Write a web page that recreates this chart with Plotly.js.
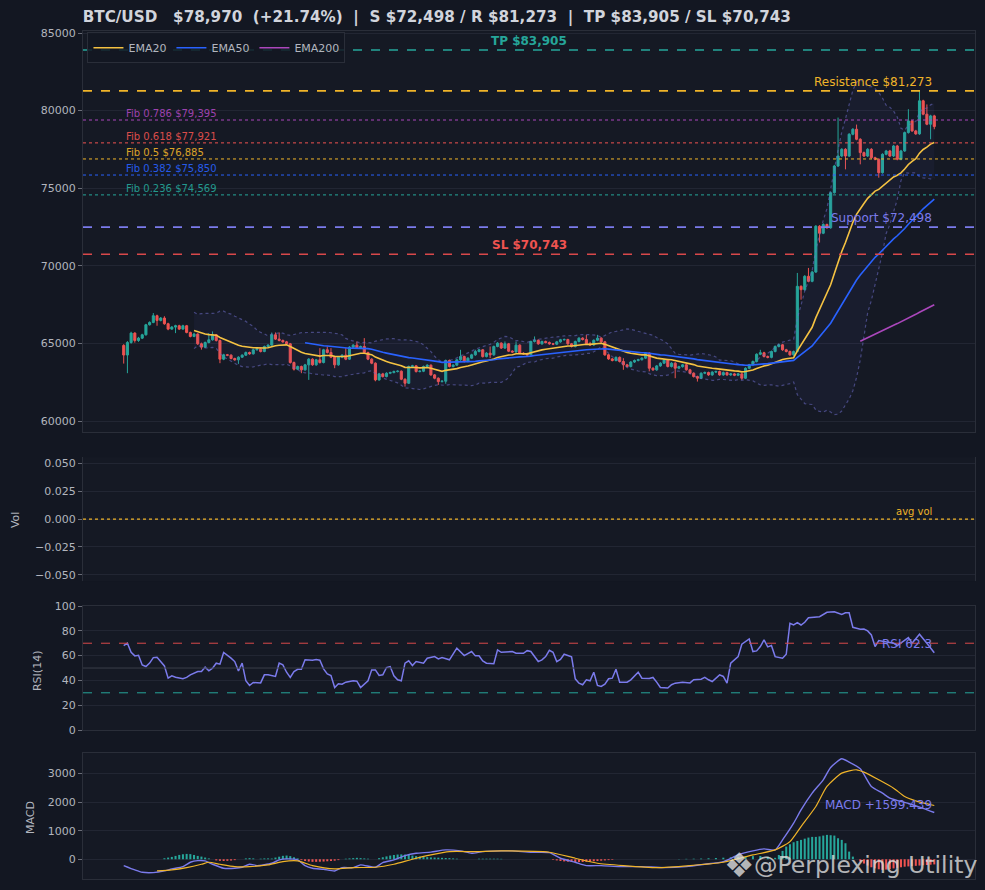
<!DOCTYPE html>
<html><head><meta charset="utf-8">
<script src="https://cdn.plot.ly/plotly-3.0.1.min.js"></script>
<style>html,body{margin:0;padding:0;background:#131722;}</style>
</head><body><div id="chart" style="width:985px;height:890px;"></div>
<script>
// ---------------- data ----------------
const closes = [64250,65060,65663,65189,65340,65555,66202,66352,66783,66481,
66632,66266,65922,66051,66137,65922,66137,65706,65448,65600,
64974,64759,65060,65233,65555,65189,63984,64264,64242,64027,
63941,64113,64242,64414,64328,64587,64630,64479,64802,64888,
65555,65276,65189,65100,64974,63768,63338,63510,63295,63618,
63984,63618,63941,63768,64587,64414,64113,63618,64113,64242,
63984,64759,64888,64716,64802,64414,63984,63725,62649,63036,
62864,63079,63122,63187,63209,62692,62433,63510,63553,63187,
63209,63510,63596,62972,62756,62541,62563,63900,63510,63600,
63941,64156,63833,64048,64264,64479,64587,64150,64371,64264,
64802,65017,64700,64974,64500,64450,64888,64371,64328,64264,
65125,65200,64974,65125,65060,64974,64950,65100,65233,65250,
64974,64800,65125,65340,65250,64974,64900,65200,65340,65100,
64264,64000,63900,64100,63833,63618,63510,63800,63900,63950,
64050,64371,63402,63295,63550,63725,63941,63510,63725,63402,
63500,63618,63300,63079,62864,62756,63079,63122,62972,63150,
63187,62972,63122,62972,63036,62950,63036,62756,63400,63618,
63833,64300,64400,64156,64100,64479,64802,64910,64587,64479,
64264,64479,68678,68463,69324,69000,69600,72553,72100,72660,
72450,74708,76430,77076,77507,77076,78476,78799,78153,77293,
77076,77507,76969,76861,76000,77184,77400,77076,77722,76861,
77400,78584,79337,78692,78500,80630,79768,79122,79660,78970];
const opens = [64868,64250,65060,65663,65189,65340,65555,66202,66352,66783,
66481,66632,66266,65922,66051,66137,65922,66137,65706,65448,
65600,64974,64759,65060,65233,65555,65189,63984,64264,64242,
64027,63941,64113,64242,64414,64328,64587,64630,64479,64802,
64888,65555,65276,65189,65100,64974,63768,63338,63510,63295,
63618,63984,63618,63941,63768,64587,64414,64113,63618,64113,
64242,63984,64759,64888,64716,64802,64414,63984,63725,62649,
63036,62864,63079,63122,63187,63209,62692,62433,63510,63553,
63187,63209,63510,63596,62972,62756,62541,62563,63900,63510,
63600,63941,64156,63833,64048,64264,64479,64587,64150,64371,
64264,64802,65017,64700,64974,64500,64450,64888,64371,64328,
64264,65125,65200,64974,65125,65060,64974,64950,65100,65233,
65250,64974,64800,65125,65340,65250,64974,64900,65200,65340,
65100,64264,64000,63900,64100,63833,63618,63510,63800,63900,
63950,64050,64371,63402,63295,63550,63725,63941,63510,63725,
63402,63500,63618,63300,63079,62864,62756,63079,63122,62972,
63150,63187,62972,63122,62972,63036,62950,63036,62756,63400,
63618,63833,64300,64400,64156,64100,64479,64802,64910,64587,
64479,64264,64479,68678,68463,69324,69000,69600,72553,72100,
72660,72450,74708,76430,77076,77507,77076,78476,78799,78153,
77293,77076,77507,76969,76861,76000,77184,77400,77076,77722,
76861,77400,78584,79337,78692,78500,80630,79768,79122,79660];
const highs = [64950,65150,65750,65720,65420,65620,66260,66420,66955,66850,
66700,66750,66330,66120,66200,66200,66200,66190,65760,65680,
65650,65050,65120,65663,65771,65600,65250,64330,64320,64300,
64080,64170,64300,64480,64470,64650,64700,64690,64860,64950,
65700,65706,65706,65250,65160,65030,63830,63570,63570,63680,
64050,64040,64000,64694,64650,64802,64694,64170,64170,64300,
64694,64820,64950,65125,64860,65340,64470,64040,63780,63100,
63100,63140,63180,63250,63270,63260,62750,63570,63620,63610,
63270,63570,63660,63650,63030,62810,62630,63960,63960,63660,
64000,64587,64210,64110,64330,64587,64650,64640,64440,64800,
64860,65080,65070,65125,65030,64560,65125,64940,64430,64390,
65180,65448,65260,65180,65180,65120,65030,65160,65290,65320,
65300,65030,65180,65400,65400,65550,65100,65260,65550,65400,
65160,64320,64060,64160,64160,64048,63680,63860,63960,64010,
64110,64430,64430,63460,63610,63790,64000,64000,63790,63790,
63560,63680,63680,63360,63140,62920,63140,63190,63180,63210,
63250,63250,63190,63180,63100,63100,63100,63100,63460,63680,
63900,64360,64587,64460,64220,64540,64870,64980,64970,64650,
64540,64540,69540,68740,69400,69862,69680,72620,72620,72740,
72720,74780,76500,79553,77580,77580,78550,78870,79100,78220,
77360,77580,77580,77030,76930,77250,77470,77470,77790,77790,
77470,78650,80091,79400,78760,81273,80700,80400,79730,79730];
const lows = [63700,63080,64980,65050,65100,65280,65500,66150,66300,66137,
66420,66200,65850,65870,65663,65860,65880,65650,65390,65400,
64900,64600,64700,65000,65180,65120,63725,63920,64180,63970,
63880,63680,64060,64190,64270,64280,64530,64420,64430,64750,
64840,65220,65130,65040,64910,63700,63250,63280,63080,63240,
62649,63560,63560,63700,63710,64350,64050,63402,63560,64050,
63920,63930,64700,64660,64650,64350,63920,63660,62560,62590,
62800,62810,63020,63070,63130,62630,62218,62380,63450,63120,
63130,63150,63450,62910,62690,62326,62480,62400,63450,63450,
63550,63880,63770,63780,63990,64200,64420,64090,64100,64050,
64200,64750,64640,64640,64440,64390,64390,64310,64270,64200,
64210,65060,64910,64910,65000,64910,64890,64890,65040,65180,
64910,64740,64740,65060,65190,64910,64840,64840,65140,65040,
64200,63940,63840,63840,63770,63300,63450,63450,63740,63840,
63890,63990,63200,63230,63240,63490,63670,63450,63450,62756,
63340,63440,63240,63010,62800,62541,62700,63020,62910,62910,
63090,62910,62910,62910,62910,62890,62890,62649,62700,63340,
63560,63770,64240,64090,64040,64040,64420,64740,64520,64420,
64200,64200,64420,67817,68400,68940,68940,69540,71500,72040,
72390,72390,74650,76370,77000,76215,77010,78410,78090,76538,
77010,77010,76900,76800,75677,75940,77120,77010,77010,76800,
76800,77340,78520,78630,78440,78440,79700,79060,78153,78799];

// RSI(14) (candle index, value)
const rsiIdx = [0,1,2,3,4,5,6,7,8,9,11,12,13,14,16,17,18,20,21,22,23,24,25,26,27,28,29,30,31,32,33,34,35,37,38,39,
41,42,43,44,45,46,47,48,49,51,52,53,54,55,56,57,58,59,60,62,63,64,66,67,68,69,70,71,72,73,74,75,76,77,78,79,
81,82,84,85,86,88,90,92,94,95,96,97,98,100,101,102,104,105,106,108,109,110,112,113,114,115,116,117,118,119,
121,122,123,124,125,126,127,128,129,130,131,132,133,134,136,137,139,140,142,143,144,145,147,148,149,151,153,154,
156,157,158,159,161,162,163,164,166,167,169,170,171,172,173,174,175,176,178,179,180,181,182,183,184,185,188,189,
190,192,194,195,196,197,199,200,201,202,203,204,206,208,209,212,213,215,217,218,219];
const rsiVal = [68,70,62.7,59.8,60.3,52.5,51.2,54,58.4,58.7,51.7,41.8,43.7,42.5,41.3,42.4,44.5,47.2,47.2,50.7,47.7,49.9,53.9,53.1,62.5,60.6,58,55.2,47.7,53.9,39.7,35.9,38.3,38,44.5,44.5,
43.2,53.9,52.5,46.6,42.4,47.2,49,49,56.6,56.3,56.8,56.3,49.3,45.3,44,34.3,37.3,37,38.6,39.7,39.4,34.3,39.7,48.5,48.5,44,44.5,50.4,51.2,43.7,40.5,39.7,53.9,55.8,52,55.2,
53.9,57.9,59.2,57.4,58.4,56.6,66,60,63.3,59.8,59.8,55.8,53.9,53.4,64.6,62.7,62.7,63.3,61.9,61.9,64,63.3,55.2,56.6,59.2,64.3,62.7,55.2,57,61.1,
59,41.3,37.8,36.5,40.5,39.7,46.6,35.9,35.1,37,41.3,41.8,49,38.6,38.6,40.5,46.6,41.8,41.5,42.4,38.6,34.3,33.8,36.5,37.8,38.6,38,40.5,
41,42.4,40.5,39.1,44.5,43.2,37.8,53.9,59.2,69.2,73.5,63.3,63.8,67.3,72.7,67,68.1,59.2,57.9,61.1,86.1,84.7,86.6,84.7,86.9,90.6,91.4,93.3,
94.9,95.4,93.3,94.6,94.6,82.8,81.2,81.5,79.9,76.7,67.3,72.1,71.3,70,68,74.5,70,77.2,70,66,62.3];

// MACD line, signal line and histogram
const macdIdx = [0,3,5,8,11,13,16,18,20,22,24,27,30,32,34,36,40,42,44,47,49,51,54,57,59,62,64,68,70,73,
76,79,83,87,91,94,97,102,105,110,115,118,122,125,129,134,140,146,152,157,162,166,170,173,176,178,181,183,186,189,
191,194,196,199,202,205,207,212,216,219];
const macdVal = [-222,-373,-455,-467,-408,-338,-257,-105,-47,-58,-175,-315,-315,-280,-175,-222,-140,-23,12,-23,
-222,-315,-350,-408,-292,-292,-198,-280,-117,-23,128,210,250,327,292,210,268,292,292,245,
233,35,-105,-222,-222,-257,-257,-292,-257,-175,-82,152,292,362,327,677,1260,1727,2311,2777,
3209,3513,3396,3163,2544,2311,2136,1950,1780,1634];
const signalIdx = [9,13,17,21,23,26,30,34,39,43,47,51,57,62,68,73,78,83,88,95,102,115,122,128,135,144,153,162,170,176,
180,183,187,190,194,198,200,204,208,211,214,219];
const signalVal = [-408,-373,-292,-175,-105,-175,-257,-257,-198,-82,-58,-222,-338,-292,-280,-175,0,152,268,268,
292,245,35,-140,-222,-292,-222,-105,152,327,618,1144,1844,2544,3011,3128,3046,2777,2486,2194,2042,1880];
const histIdx = [11,12,13,14,15,16,17,18,19,20,21,22,23,25,26,27,28,29,30,33,34,35,37,38,39,40,41,42,43,44,45,46,47,
48,49,50,51,52,53,54,55,56,57,58,60,61,62,63,64,65,66,69,70,71,72,73,74,75,76,77,78,79,80,81,82,
83,84,85,86,87,88,89,90,96,97,98,99,100,101,102,116,117,118,119,120,121,122,123,124,125,126,127,128,129,130,131,132,
150,152,154,156,158,160,162,164,166,168,170,172,174,176,177,178,179,180,181,182,183,184,185,186,187,188,189,190,191,192,
193,194,195,196,197,199,200,201,202,203,204,205,206,207,208,209,210,211,212,213,214,215,216,217,218,219];
const histVal = [35,58,82,117,152,175,187,180,150,117,93,60,30,-40,-55,-60,-55,-45,-30,30,40,30,20,30,30,25,60,90,120,130,110,70,30,
-30,-60,-80,-90,-90,-85,-80,-70,-60,-50,-30,20,30,40,50,40,30,20,40,70,100,130,150,165,170,165,150,130,110,95,85,75,
65,60,55,50,45,40,30,20,20,20,20,20,20,20,15,-20,-40,-60,-75,-85,-95,-100,-100,-95,-90,-80,-70,-60,-50,-40,-30,-20,
10,15,20,25,35,45,55,70,85,100,110,115,90,50,150,292,443,525,595,640,677,720,758,782,782,800,828,852,840,828,
735,677,560,268,93,-80,-150,-220,-280,-320,-350,-370,-360,-340,-320,-300,-280,-260,-250,-240,-230,-220,-210,-200,-190,-180];

const lastPrice = 78970;
const pctChange = 21.74;
const supportLevel = 72498;
const resistanceLevel = 81273;
const tpLevel = 83905;
const slLevel = 70743;
const fibRatios = ['0.786','0.618','0.5','0.382','0.236'];
const fibPrices = [79395, 77921, 76885, 75850, 74569];
const rsiLast = 62.3;
const macdLast = 1599.439;
const avgVol = 0;
const emaNames = ['EMA20','EMA50','EMA200'];
const emaPeriods = [20, 50, 200];

// ---------------- styles ----------------
const UP = '#26a69a', DOWN = '#ef5350', GOLD = '#f0b429', PERI = '#7b7bec';
const emaColors = ['#f5c242', '#2962ff', '#ab47bc'];
const fibColors = ['#ab47bc', '#ef5350', '#f0b429', '#2962ff', '#26a69a'];
const FONT = 'DejaVu Sans, Liberation Sans, sans-serif';
const TXT = '#b2b5be';
const GRID = '#222633';
const FRAME = '#2a2e39';

// ---------------- overlays computed from the candles ----------------
const n = closes.length;
const idx = closes.map((_, i) => i);
function emaSeeded(arr, p) {
  const out = arr.map(() => null);
  if (arr.length < p) return out;
  let s = 0; for (let i = 0; i < p; i++) s += arr[i];
  let prev = s / p; out[p - 1] = prev;
  const a = 2 / (p + 1);
  for (let i = p; i < arr.length; i++) { prev = a * arr[i] + (1 - a) * prev; out[i] = prev; }
  return out;
}
const bbU = [], bbL = [];
for (let i = 0; i < n; i++) {
  if (i < 19) { bbU.push(null); bbL.push(null); continue; }
  const w = closes.slice(i - 19, i + 1);
  const m = w.reduce((a, b) => a + b, 0) / 20;
  const sd = Math.sqrt(w.reduce((a, b) => a + (b - m) * (b - m), 0) / 20);
  bbU.push(m + 2 * sd); bbL.push(m - 2 * sd);
}

// ---------------- traces ----------------
const traces = [];
traces.push({type: 'scatter', x: idx, y: bbU, mode: 'lines', line: {color: 'rgba(110,110,200,0.55)', width: 1.2, dash: 'dot'}, hoverinfo: 'skip', showlegend: false, xaxis: 'x', yaxis: 'y'});
traces.push({type: 'scatter', x: idx, y: bbL, mode: 'lines', line: {color: 'rgba(110,110,200,0.55)', width: 1.2, dash: 'dot'}, fill: 'tonexty', fillcolor: 'rgba(110,110,220,0.06)', hoverinfo: 'skip', showlegend: false, xaxis: 'x', yaxis: 'y'});
traces.push({type: 'candlestick', x: idx, open: opens, high: highs, low: lows, close: closes,
  increasing: {line: {color: UP, width: 1}, fillcolor: UP},
  decreasing: {line: {color: DOWN, width: 1}, fillcolor: DOWN},
  whiskerwidth: 0, showlegend: false, xaxis: 'x', yaxis: 'y'});
emaPeriods.forEach((p, k) => {
  traces.push({type: 'scatter', x: idx, y: emaSeeded(closes, p), mode: 'lines', name: emaNames[k],
    line: {color: emaColors[k], width: 1.6}, xaxis: 'x', yaxis: 'y'});
});
traces.push({type: 'scatter', x: rsiIdx, y: rsiVal, mode: 'lines', line: {color: PERI, width: 1.5}, showlegend: false, xaxis: 'x3', yaxis: 'y3'});
traces.push({type: 'bar', x: histIdx, y: histVal, marker: {color: histVal.map(v => v < 0 ? DOWN : UP)}, width: 0.55, showlegend: false, xaxis: 'x4', yaxis: 'y4'});
traces.push({type: 'scatter', x: macdIdx, y: macdVal, mode: 'lines', line: {color: PERI, width: 1.4, shape: 'spline', smoothing: 0.6}, showlegend: false, xaxis: 'x4', yaxis: 'y4'});
traces.push({type: 'scatter', x: signalIdx, y: signalVal, mode: 'lines', line: {color: GOLD, width: 1.2, shape: 'spline', smoothing: 0.6}, showlegend: false, xaxis: 'x4', yaxis: 'y4'});

// ---------------- shapes & annotations ----------------
const hl = (yref, y, color, dash, width) => ({type: 'line', xref: 'paper', x0: 0, x1: 1, yref: yref, y0: y, y1: y, line: {color: color, dash: dash, width: width}, layer: 'above'});
const shapes = [];
fibPrices.forEach((p, k) => shapes.push(hl('y', p, fibColors[k], 'dot', 1)));
shapes.push(hl('y', tpLevel, UP, 'dash', 1.6));
shapes.push(hl('y', resistanceLevel, GOLD, 'dash', 1.8));
shapes.push(hl('y', supportLevel, PERI, 'dash', 1.8));
shapes.push(hl('y', slLevel, '#d9484a', 'dash', 1.6));
shapes.push(hl('y2', avgVol, GOLD, 'dot', 1.2));
shapes.push(hl('y3', 70, '#d9484a', 'dash', 1));
shapes.push(hl('y3', 30, '#26a69a', 'dash', 1));
shapes.push(hl('y3', 50, '#3a3e4a', 'solid', 1));

const fmt = v => '$' + v.toLocaleString('en-US');
const ann = [];
fibPrices.forEach((p, k) => ann.push({xref: 'x', yref: 'y', x: 0, y: p, xanchor: 'left', yanchor: 'bottom', showarrow: false,
  text: 'Fib ' + fibRatios[k] + ' ' + fmt(p), font: {family: FONT, size: 10, color: fibColors[k]}, opacity: 0.9, yshift: -1}));
ann.push({xref: 'paper', yref: 'y', x: 0.5, y: tpLevel, xanchor: 'center', yanchor: 'bottom', showarrow: false,
  text: '<b>TP ' + fmt(tpLevel) + '</b>', font: {family: FONT, size: 12, color: UP}});
ann.push({xref: 'paper', yref: 'y', x: 0.5, y: slLevel, xanchor: 'center', yanchor: 'bottom', showarrow: false,
  text: '<b>SL ' + fmt(slLevel) + '</b>', font: {family: FONT, size: 12, color: DOWN}});
ann.push({xref: 'x', yref: 'y', x: n - 1, y: resistanceLevel, xanchor: 'right', yanchor: 'bottom', showarrow: false,
  text: 'Resistance ' + fmt(resistanceLevel), font: {family: FONT, size: 12, color: GOLD}});
ann.push({xref: 'x', yref: 'y', x: n - 1, y: supportLevel, xanchor: 'right', yanchor: 'bottom', showarrow: false,
  text: 'Support ' + fmt(supportLevel), font: {family: FONT, size: 12, color: PERI}});
ann.push({xref: 'x', yref: 'y2', x: n - 1, y: avgVol, xanchor: 'right', yanchor: 'bottom', showarrow: false,
  text: 'avg vol', font: {family: FONT, size: 10, color: GOLD}});
ann.push({xref: 'x', yref: 'y3', x: n - 1, y: rsiLast, xanchor: 'right', yanchor: 'bottom', showarrow: false,
  text: 'RSI ' + rsiLast.toFixed(1), font: {family: FONT, size: 12, color: PERI}});
ann.push({xref: 'x', yref: 'y4', x: n - 1, y: macdLast, xanchor: 'right', yanchor: 'bottom', showarrow: false,
  text: 'MACD +' + macdLast.toFixed(3), font: {family: FONT, size: 12, color: PERI}});
// panel axis titles
[['Vol', -0.0762, 0.4233], ['RSI(14)', -0.0504, 0.2453], ['MACD', -0.0594, 0.0719]].forEach(t => ann.push({
  xref: 'paper', yref: 'paper', x: t[1], y: t[2], xanchor: 'center', yanchor: 'middle', textangle: -90, showarrow: false,
  text: t[0], font: {family: FONT, size: 11, color: TXT}}));
// watermark
ann.push({xref: 'paper', yref: 'paper', x: 1.004, y: 0.016, xanchor: 'right', yanchor: 'middle', showarrow: false,
  text: '@Perplexing Utility', font: {family: FONT, size: 23.5, color: 'rgba(225,225,225,0.8)'}});
ann.push({xref: 'paper', yref: 'paper', x: 0.735, y: 0.017, xanchor: 'center', yanchor: 'middle', showarrow: false,
  text: '❖', font: {family: FONT, size: 34, color: 'rgba(225,225,225,0.8)'}});

// ---------------- layout ----------------
const xBase = {range: [-11, 230], showticklabels: false, showgrid: false, zeroline: false,
  showline: true, mirror: true, linecolor: FRAME, linewidth: 1, fixedrange: true};
const yBase = {showgrid: true, gridcolor: GRID, gridwidth: 1, zeroline: false, showline: true, mirror: true,
  linecolor: FRAME, ticks: 'outside', ticklen: 4, tickcolor: '#6a6d78',
  tickfont: {family: FONT, size: 11, color: TXT}};

const title = 'BTC/USD\u00a0\u00a0 ' + fmt(lastPrice) + '\u00a0 (+' + pctChange.toFixed(2) + '%)\u00a0 |\u00a0 S ' + fmt(supportLevel) +
  ' / R ' + fmt(resistanceLevel) + '\u00a0 |\u00a0 TP ' + fmt(tpLevel) + ' / SL ' + fmt(slLevel);

const layout = {
  width: 985, height: 890,
  paper_bgcolor: '#131722', plot_bgcolor: '#151924',
  margin: {l: 83, r: 10, t: 31, b: 11},
  font: {family: FONT, color: TXT},
  title: {text: '<b>' + title + '</b>', x: 0.084, xanchor: 'left', y: 0.981, yanchor: 'middle',
    font: {family: FONT, size: 15.2, color: '#d1d4dc'}},
  showlegend: true,
  legend: {orientation: 'h', traceorder: 'normal', x: 0.005, y: 0.9985, xanchor: 'left', yanchor: 'top',
    bgcolor: 'rgba(19,23,34,0.85)', bordercolor: FRAME, borderwidth: 1, itemwidth: 30,
    font: {family: FONT, size: 11, color: TXT}},
  xaxis: Object.assign({}, xBase, {anchor: 'y', rangeslider: {visible: false}}),
  xaxis2: Object.assign({}, xBase, {anchor: 'y2', matches: 'x'}),
  xaxis3: Object.assign({}, xBase, {anchor: 'y3', matches: 'x'}),
  xaxis4: Object.assign({}, xBase, {anchor: 'y4', matches: 'x'}),
  yaxis: Object.assign({}, yBase, {domain: [0.5271, 1], range: [59290, 85130],
    tickvals: [60000, 65000, 70000, 75000, 80000, 85000], tickformat: 'd'}),
  yaxis2: Object.assign({}, yBase, {domain: [0.3514, 0.4976], range: [-0.0555, 0.0555],
    tickvals: [-0.05, -0.025, 0, 0.025, 0.05], tickformat: '.3f'}),
  yaxis3: Object.assign({}, yBase, {domain: [0.1757, 0.3219], range: [0, 100],
    tickvals: [0, 20, 40, 60, 80, 100]}),
  yaxis4: Object.assign({}, yBase, {domain: [0, 0.1486], range: [-690, 3715],
    tickvals: [0, 1000, 2000, 3000], tickformat: 'd'}),
  shapes: shapes, annotations: ann, boxgap: 0.2
};

Plotly.newPlot('chart', traces, layout, {displayModeBar: false, staticPlot: true});
</script></body></html>
